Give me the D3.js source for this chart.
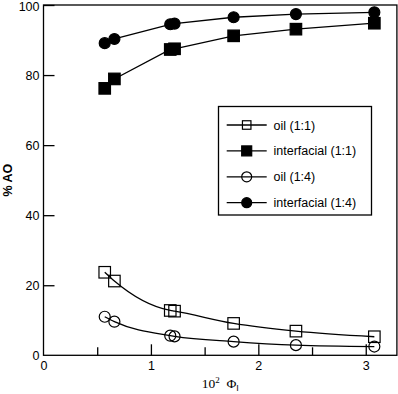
<!DOCTYPE html>
<html>
<head>
<meta charset="utf-8">
<script src="https://cdn.jsdelivr.net/npm/d3@7"></script>
<style>
  body { margin: 0; background: #fff; }
  svg { display: block; }
</style>
</head>
<body>
<div id="chart"></div>
<script>
let width = 398;
let height = 394;

// x values (10^2 phi_I), shared by all series
let phi = [0.57, 0.66, 1.18, 1.22, 1.77, 2.35, 3.08];

let oil11 = [23.7, 21.2, 12.8, 12.6, 9.1, 6.9, 5.3];
let interfacial11 = [76.2, 78.9, 87.3, 87.5, 91.2, 93.1, 94.8];
let oil14 = [11.0, 9.6, 5.6, 5.4, 3.9, 2.9, 2.5];
let interfacial14 = [89.1, 90.3, 94.5, 94.7, 96.5, 97.4, 97.9];

let seriesNames = ["oil (1:1)", "interfacial (1:1)", "oil (1:4)", "interfacial (1:4)"];
let xTicks = [0, 1, 2, 3];
let xMinorTicks = [0.5, 1.5, 2.5];
let yTicks = [0, 20, 40, 60, 80, 100];

let series = [
    {name: seriesNames[0], values: oil11, shape: "square", filled: false, smooth: true},
    {name: seriesNames[1], values: interfacial11, shape: "square", filled: true, smooth: false},
    {name: seriesNames[2], values: oil14, shape: "circle", filled: false, smooth: true},
    {name: seriesNames[3], values: interfacial14, shape: "circle", filled: true, smooth: false}
];

let xScale = d3.scaleLinear().domain([0, 3.29]).range([43.5, 396.9]);
let yScale = d3.scaleLinear().domain([0, 100]).range([355.3, 5]);

let svg = d3.select("#chart")
    .append("svg")
    .attr("width", width)
    .attr("height", height)
    .style("font-family", "Liberation Sans, Arial, sans-serif");

// frame
svg.append("rect")
    .attr("x", xScale.range()[0])
    .attr("y", yScale.range()[1])
    .attr("width", xScale.range()[1] - xScale.range()[0])
    .attr("height", yScale.range()[0] - yScale.range()[1])
    .attr("fill", "none")
    .attr("stroke", "#000")
    .attr("stroke-width", 1.3);

let xAxis = svg.append("g")
    .attr("transform", `translate(0,${yScale.range()[0]})`)
    .call(d3.axisBottom(xScale).tickValues(xTicks).tickSize(-11).tickPadding(6).tickFormat(d3.format("d")));
xAxis.select(".domain").remove();
xAxis.selectAll("line").attr("stroke-width", 1.3);
xAxis.selectAll("text").attr("font-size", 12.5).attr("font-family", "Liberation Sans, Arial, sans-serif");

let xMinor = svg.append("g")
    .attr("transform", `translate(0,${yScale.range()[0]})`)
    .call(d3.axisBottom(xScale).tickValues(xMinorTicks).tickSize(-8).tickFormat(""));
xMinor.select(".domain").remove();
xMinor.selectAll("line").attr("stroke-width", 1.3);

let yAxis = svg.append("g")
    .attr("transform", `translate(${xScale.range()[0]},0)`)
    .call(d3.axisLeft(yScale).tickValues(yTicks).tickSize(-11).tickPadding(4).tickFormat(d3.format("d")));
yAxis.select(".domain").remove();
yAxis.selectAll("line").attr("stroke-width", 1.3);
yAxis.selectAll("text").attr("font-size", 12.5).attr("font-family", "Liberation Sans, Arial, sans-serif");
// keep the top label inside the picture
yAxis.selectAll(".tick").filter(d => d === 100).select("text").attr("dy", "0.45em");
// the zero tick sits on the x axis
yAxis.selectAll(".tick").filter(d => d === 0).select("line").remove();
xAxis.selectAll(".tick").filter(d => d === 0).select("line").remove();

// axis titles
svg.append("text")
    .attr("transform", `translate(12,${(yScale.range()[0] + yScale.range()[1]) / 2}) rotate(-90)`)
    .attr("text-anchor", "middle")
    .attr("font-size", 12.5)
    .attr("font-weight", "bold")
    .text("% AO");

let xt = svg.append("text")
    .attr("x", (xScale.range()[0] + xScale.range()[1]) / 2)
    .attr("y", 388)
    .attr("text-anchor", "middle")
    .attr("font-family", "Liberation Serif, Times New Roman, serif")
    .attr("font-size", 13.5);
xt.append("tspan").text("10");
xt.append("tspan").attr("dy", -5).attr("font-size", 9).text("2");
xt.append("tspan").attr("dy", 5).text("\u2002\u03A6");
xt.append("tspan").attr("dy", 3).attr("font-size", 9).attr("font-family", "Liberation Sans, Arial, sans-serif").text("I");

function drawMarker(g, s, cx, cy, size) {
    if (s.shape === "square") {
        g.append("rect")
            .attr("x", cx - size / 2).attr("y", cy - size / 2)
            .attr("width", size).attr("height", size)
            .attr("fill", s.filled ? "#000" : "none")
            .attr("stroke", "#000").attr("stroke-width", 1.2);
    } else {
        g.append("circle")
            .attr("cx", cx).attr("cy", cy).attr("r", size / 2)
            .attr("fill", s.filled ? "#000" : "none")
            .attr("stroke", "#000").attr("stroke-width", 1.2);
    }
}

series.forEach(s => {
    let pts = phi.map((x, i) => [x, s.values[i]]);
    let line = d3.line()
        .x(d => xScale(d[0]))
        .y(d => yScale(d[1]))
        .curve(s.smooth ? d3.curveMonotoneX : d3.curveLinear);
    svg.append("path")
        .datum(pts)
        .attr("d", line)
        .attr("fill", "none")
        .attr("stroke", "#000")
        .attr("stroke-width", 1.3);
    let g = svg.append("g");
    pts.forEach(p => drawMarker(g, s, xScale(p[0]), yScale(p[1]), s.shape === "square" ? 11.5 : 11));
});

// legend
let legend = svg.append("g");
legend.append("rect")
    .attr("x", 218.5).attr("y", 106.5)
    .attr("width", 153).attr("height", 108.5)
    .attr("fill", "#fff")
    .attr("stroke", "#000")
    .attr("stroke-width", 1.3);

series.forEach((s, i) => {
    let y = 125 + i * 25.9;
    legend.append("line")
        .attr("x1", 226.7).attr("x2", 266.7)
        .attr("y1", y).attr("y2", y)
        .attr("stroke", "#000").attr("stroke-width", 1.3);
    drawMarker(legend, s, 246.7, y, s.shape === "square" ? (s.filled ? 10 : 8.5) : 10);
    legend.append("text")
        .attr("x", 273.5).attr("y", y + 4.5)
        .attr("font-size", 12.5)
        .text(s.name);
});
</script>
</body>
</html>
